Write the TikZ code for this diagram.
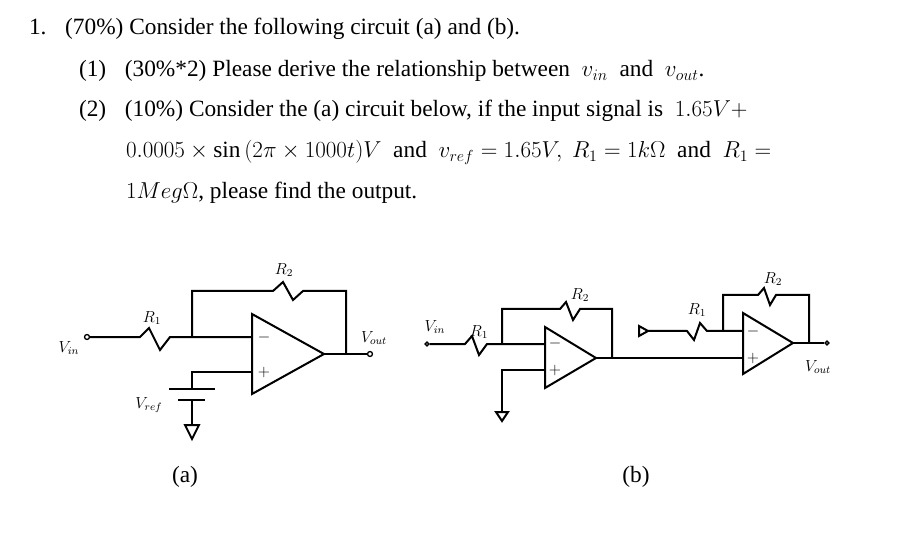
\documentclass[tikz,border=0pt]{standalone}
\usepackage{fontspec}
\setmainfont{Liberation Serif}
\begin{document}
\begin{tikzpicture}[x=0.75pt,y=-0.75pt,line width=1.5pt,
  txt/.style={anchor=base west,inner sep=0pt,font=\fontsize{17.5}{20}\selectfont},
  lab/.style={inner sep=0pt,font=\fontsize{12}{14}\selectfont},
  term/.style={circle,draw,fill=white,line width=1pt,inner sep=1.3pt},
  amp/.style={line join=miter}]
\useasboundingbox (0,0) rectangle (921,538);
% text
\node[txt] (t1) at (28,35) {1.\hspace{0.8em}(70\%) Consider the following circuit (a) and (b).};
\node[txt] (t2) at (78,77) {(1)\hspace{0.8em}(30\%*2) Please derive the relationship between \ $v_{in}$ \ and \ $v_{out}$.};
\node[txt] (t3) at (78,117) {(2)\hspace{0.8em}(10\%) Consider the (a) circuit below, if the input signal is \ $1.65V+$};
\node[txt] (t4) at (125,158) {$0.0005\times\sin\,(2\pi\times1000t)V$ \ and \ $v_{ref}=1.65V,\ R_1=1k\Omega$ \ and \ $R_1=$};
\node[txt] (t5) at (125,199) {$1Meg\Omega$, please find the output.};
% ---- circuit (a)
\node[term] (ain) at (87,337) {};
\coordinate (aj) at (192,337);
\coordinate (ao) at (346,354);
\node[term] (aout) at (370,354) {};
\draw (ain) -- (140,337) -- (149,328) -- (160,350) -- (170,337) -- (aj) -- (252,337);
\draw (aj) -- (192,291) -- (273,291) -- (283,282) -- (293,300) -- (303,291) -- (346,291) -- (ao);
\draw[amp] (252,314) -- (324,354) -- (252,394) -- cycle;
\draw (324,354) -- (aout);
\draw (252,372) -- (192,372) -- (192,389);
\draw (169,389) -- (215,389);
\draw (178,400) -- (205,400);
\draw (192,400) -- (192,425);
\draw (185,425) -- (199,425) -- (192,439) -- cycle;
\node[lab] (am) at (264,337) {$-$};
\node[lab] (ap) at (264,372) {$+$};
\node[lab] (avin) at (69,348) {$V_{in}$};
\node[lab] (ar1) at (152,318) {$R_1$};
\node[lab] (ar2) at (284,270) {$R_2$};
\node[lab] (avout) at (374,338) {$V_{out}$};
\node[lab] (avref) at (149,405) {$V_{ref}$};
\node[txt,anchor=base] (la) at (185,482) {(a)};
% ---- circuit (b)
\node[term,inner sep=1pt] (bin) at (427,344) {};
\coordinate (bj) at (502,344);
\draw (bin) -- (465,344) -- (472,336) -- (479,355) -- (487,344) -- (bj) -- (545,344);
\draw (bj) -- (502,309) -- (560,309) -- (566,302) -- (573,320) -- (580,309) -- (612,309) -- (612,358);
\draw[amp] (545,327) -- (596,358) -- (545,388) -- cycle;
\draw (596,358) -- (743,358);
\draw (545,370) -- (502,370) -- (502,412);
\draw (496,412) -- (508,412) -- (502,421) -- cycle;
\node[lab] (bm) at (555,344) {$-$};
\node[lab] (bp) at (555,370) {$+$};
\draw[amp] (743,313) -- (793,343) -- (743,374) -- cycle;
\coordinate (bj2) at (723,331);
\draw (743,331) -- (bj2) -- (707,331) -- (700,323) -- (694,340) -- (687,331) -- (648,331);
\draw (648,331) -- (639,326) -- (639,336) -- cycle;
\draw (bj2) -- (723,295) -- (758,295) -- (764,288) -- (770,305) -- (776,295) -- (809,295) -- (809,343);
\node[term,inner sep=1pt] (bout) at (827,343) {};
\draw (793,343) -- (bout);
\node[lab] (bm2) at (753,331) {$-$};
\node[lab] (bp2) at (753,358) {$+$};
\node[lab] (bvin) at (435,327) {$V_{in}$};
\node[lab] (br1) at (479,332) {$R_1$};
\node[lab] (br2) at (580,295) {$R_2$};
\node[lab] (br1b) at (697,310) {$R_1$};
\node[lab] (br2b) at (773,279) {$R_2$};
\node[lab] (bvout) at (818,367) {$V_{out}$};
\node[txt,anchor=base] (lb) at (636,482) {(b)};
\end{tikzpicture}
\end{document}
